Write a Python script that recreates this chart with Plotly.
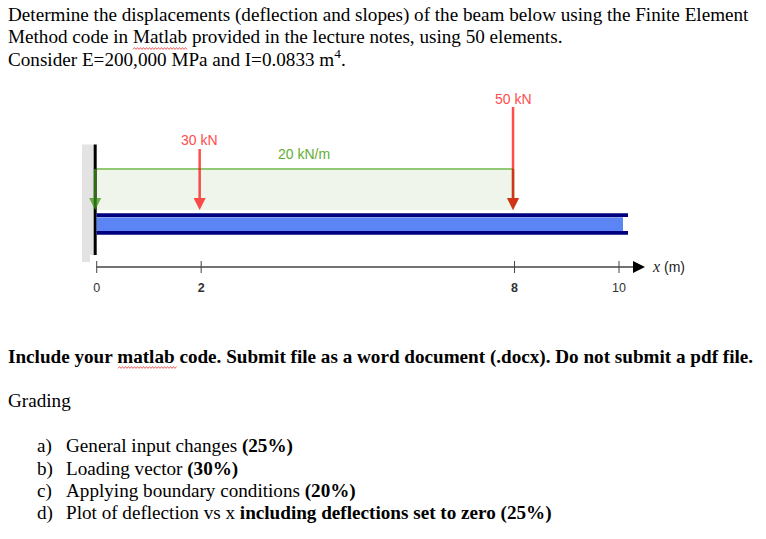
import numpy as np
import plotly.graph_objects as go

# beam problem data (metres / kN)
tick_vals = [0, 2, 8, 10]
tick_text = ['0', '<b>2</b>', '<b>8</b>', '10']
point_x = [2, 8]
point_labels = ['30 kN', '50 kN']
dist_x = [0, 8]
dist_label = '20 kN/m'

# page text: (x px, y px, text)
page_lines = [
    (8, 15, 'Determine the displacements (deflection and slopes) of the beam below using the Finite Element'),
    (8, 36.5, 'Method code in Matlab provided in the lecture notes, using 50 elements.'),
    (8, 57.5, 'Consider E=200,000 MPa and I=0.0833 m<sup>4</sup>.'),
    (8, 356.5, '<b>Include your matlab code. Submit file as a word document (.docx). Do not submit a pdf file.</b>'),
    (8, 400, 'Grading'),
    (37, 446, 'a)'),
    (66, 446, 'General input changes <b>(25%)</b>'),
    (37, 468.5, 'b)'),
    (66, 468.5, 'Loading vector <b>(30%)</b>'),
    (37, 491, 'c)'),
    (66, 491, 'Applying boundary conditions <b>(20%)</b>'),
    (37, 513, 'd)'),
    (66, 513, 'Plot of deflection vs x <b>including deflections set to zero (25%)</b>'),
]

W, H = 766, 539
X0 = 96.7
SCALE = 52.23
SHIFT = -1.5 / SCALE  # loads sit slightly left of the ticks

RED = 'rgba(255,0,0,0.7)'
GREEN = 'rgba(60,150,20,0.75)'
NAVY = '#00007f'
AXIS = '#444444'
SANS = 'Liberation Sans'
SERIF = 'Liberation Serif'


def line(x, y, color, width):
    return go.Scatter(x=x, y=y, mode='lines', line=dict(color=color, width=width),
                      hoverinfo='skip')


def rect(x0, x1, y0, y1, color):
    return go.Scatter(x=[x0, x1, x1, x0], y=[y0, y0, y1, y1], mode='none', fill='toself',
                      fillcolor=color, hoverinfo='skip')


def down_arrow(x, top, color):
    fig.add_trace(line([x, x], [top, 198], color, 2.5))
    half = 6 / SCALE
    fig.add_trace(go.Scatter(x=[x - half, x + half, x], y=[198, 198, 210], mode='none',
                             fill='toself', fillcolor=color, hoverinfo='skip'))


fig = go.Figure()

# wall
fig.add_trace(rect(-14.7 / SCALE, -6.7 / SCALE, 144.5, 262, '#e3e3e3'))
fig.add_trace(rect(-6.7 / SCALE, -1.5 / SCALE, 144.5, 255, '#e3e3e3'))

# distributed load
fig.add_trace(rect(dist_x[0], dist_x[1] + SHIFT, 169, 210, '#eff5ea'))
fig.add_trace(line([dist_x[0], dist_x[1] + SHIFT], [169, 169], '#93c975', 2))

# wall face
fig.add_trace(line([-1.5 / SCALE, -1.5 / SCALE], [144.5, 255], 'black', 3))

down_arrow(dist_x[0] + SHIFT, 169, GREEN)
down_arrow(dist_x[1] + SHIFT, 169, GREEN)

# beam
fig.add_trace(rect(0, (623 - X0) / SCALE, 217, 231, '#5b84f5'))
fig.add_trace(rect(0, (628 - X0) / SCALE, 213.3, 217, NAVY))
fig.add_trace(rect(0, (628 - X0) / SCALE, 231, 234.7, NAVY))
fig.add_trace(line([0, (623 - X0) / SCALE], [217.5, 217.5], '#8aa2ec', 1))

# point loads
down_arrow(point_x[0] + SHIFT, 149, RED)
down_arrow(point_x[1] + SHIFT, 107, RED)

# x axis line, ticks and arrow
fig.add_trace(line([0, (636 - X0) / SCALE], [267, 267], AXIS, 1.5))
for t in tick_vals:
    fig.add_trace(line([t, t], [261, 273], AXIS, 1))
fig.add_trace(go.Scatter(x=[(633 - X0) / SCALE, (645 - X0) / SCALE, (633 - X0) / SCALE],
                         y=[261, 267, 273], mode='none', fill='toself',
                         fillcolor='black', hoverinfo='skip'))

# spell-check squiggles, page pixel axis
for x_start, x_end, y in [(133, 187, 48.5), (118, 176, 367.5)]:
    sx = np.arange(x_start, x_end + 1, 1.5)
    sy = y + np.where(np.arange(len(sx)) % 2 == 0, 1, -1) * 0.9
    fig.add_trace(go.Scatter(x=sx, y=sy, xaxis='x2', mode='lines',
                             line=dict(color='#e02020', width=0.7), hoverinfo='skip'))

annotations = []
for x, y, txt in page_lines:
    annotations.append(dict(x=x, y=y, xref='x2', yref='y', text=txt, showarrow=False,
                            xanchor='left', yanchor='middle', borderpad=0, borderwidth=0,
                            font=dict(family=SERIF, size=19.15, color='black')))

for x, y, label in [(point_x[0] + SHIFT, 140, point_labels[0]), (point_x[1] + SHIFT, 99, point_labels[1])]:
    annotations.append(dict(x=x, y=y, xref='x', yref='y', text=label, showarrow=False,
                            font=dict(family=SANS, size=14, color='#ff4d4d')))
annotations.append(dict(x=(303.5 - X0) / SCALE, y=154, xref='x', yref='y', text=dist_label,
                        showarrow=False, font=dict(family=SANS, size=14, color='#5fae32')))
annotations.append(dict(x=(652 - X0) / SCALE, y=266.5, xref='x', yref='y', text='<i>x</i>',
                        showarrow=False, xanchor='left', borderpad=0, borderwidth=0,
                        font=dict(family=SERIF, size=16, color='#222222')))
annotations.append(dict(x=(664 - X0) / SCALE, y=267, xref='x', yref='y', text='(m)',
                        showarrow=False, xanchor='left', borderpad=0, borderwidth=0,
                        font=dict(family=SANS, size=14, color='#222222')))

fig.update_layout(
    width=W,
    height=H,
    margin=dict(l=0, r=0, t=0, b=0),
    paper_bgcolor='white',
    plot_bgcolor='white',
    showlegend=False,
    xaxis=dict(
        range=[-X0 / SCALE, (W - X0) / SCALE],
        domain=[0, 1],
        anchor='free',
        position=1 - 267 / H,
        tickmode='array',
        tickvals=tick_vals,
        ticktext=tick_text,
        ticks='',
        ticklabelstandoff=11,
        tickfont=dict(family=SANS, size=12.5, color='#333333'),
        showgrid=False,
        zeroline=False,
        showline=False,
    ),
    xaxis2=dict(range=[0, W], overlaying='x', visible=False),
    yaxis=dict(range=[H, 0], domain=[0, 1], visible=False),
    annotations=annotations,
)

# drop the default body margin so the plot fills the window
fig.write_html("out.html", config={'displayModeBar': False},
               post_script="document.body.style.margin = '0';")
